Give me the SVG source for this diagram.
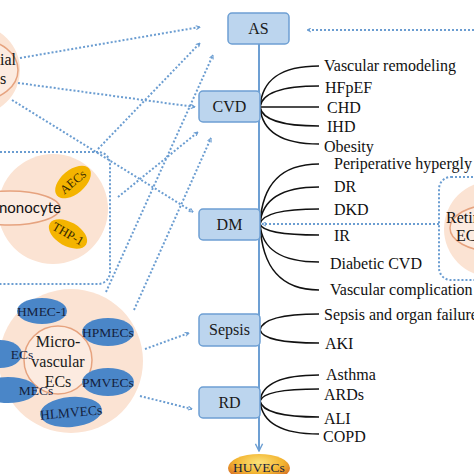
<svg xmlns="http://www.w3.org/2000/svg" width="474" height="474" viewBox="0 0 474 474">
<defs>
<style>
.box{fill:#bcd5ee;stroke:#6d9fd3;stroke-width:1.5}
.bt{font-family:"Liberation Serif",serif;font-size:16px;fill:#1a1a1a;text-anchor:middle}
.lt{font-family:"Liberation Serif",serif;font-size:16px;fill:#111}
.dot{fill:none;stroke:#6b9dd1;stroke-width:2;stroke-dasharray:2 2}
.dota{fill:none;stroke:#6b9dd1;stroke-width:2;stroke-dasharray:2 2;marker-end:url(#ah)}
.cur{fill:none;stroke:#111;stroke-width:1.6}
.peach{fill:#fbe3d3}
.inner{fill:#fcebe0;stroke:#e6a37f;stroke-width:1.5}
.blue{fill:#4a86c8}
.bl{font-family:"Liberation Serif",serif;font-size:13.5px;fill:#14213d;text-anchor:middle}
.gold{fill:#f4b400}
.gt{font-family:"Liberation Serif",serif;font-size:12.5px;fill:#3a2a00;text-anchor:middle}
</style>
<marker id="ah" viewBox="0 0 10 10" refX="9" refY="5" markerWidth="5" markerHeight="5" orient="auto" markerUnits="userSpaceOnUse">
<path d="M1,1 L9,5 L1,9" fill="none" stroke="#6b9dd1" stroke-width="2"/>
</marker>
<marker id="ahs" viewBox="0 0 10 10" refX="9" refY="5" markerWidth="9" markerHeight="9" orient="auto" markerUnits="userSpaceOnUse">
<path d="M1,1 L9,5 L1,9" fill="none" stroke="#6d9fd3" stroke-width="1.6"/>
</marker>
<radialGradient id="hg" cx="0.5" cy="0.3" r="0.7">
<stop offset="0" stop-color="#fbe27a"/>
<stop offset="0.55" stop-color="#f3b531"/>
<stop offset="1" stop-color="#cf5a22"/>
</radialGradient>
</defs>

<g id="source-top-left">
<circle class="peach" cx="-25" cy="70" r="45"/>
<ellipse class="inner" cx="-20" cy="70" rx="38" ry="30"/>
<text class="lt" x="0" y="65" font-size="17">ial</text>
<text class="lt" x="0" y="84" font-size="17">s</text>
</g>

<g id="monocyte-panel">
<rect class="dot" x="-20" y="152" width="130" height="132" rx="12"/>
<circle class="peach" cx="53" cy="209" r="55"/>
<ellipse class="inner" cx="10" cy="208" rx="50" ry="17"/>
<text x="-1" y="213" font-family="Lato,'Open Sans',sans-serif" font-size="15" fill="#111">nonocyte</text>
<ellipse class="gold" cx="73" cy="182" rx="21" ry="12" transform="rotate(-40 73 182)"/>
<text class="gt" x="73" y="186" transform="rotate(-40 73 182)">AECs</text>
<ellipse class="gold" cx="68" cy="234" rx="21" ry="12" transform="rotate(30 68 234)"/>
<text class="gt" x="68" y="238" transform="rotate(30 68 234)">THP-1</text>
</g>

<g id="microvascular">
<circle class="peach" cx="71" cy="361" r="72"/>
<circle class="inner" cx="58" cy="360" r="34"/>
<text class="bt" x="58" y="347">Micro-</text>
<text class="bt" x="58" y="367">vascular</text>
<text class="bt" x="58" y="387">ECs</text>
<ellipse class="blue" cx="42" cy="311" rx="25" ry="13"/>
<text class="bl" x="42" y="316">HMEC-1</text>
<ellipse class="blue" cx="108" cy="332" rx="26" ry="14"/>
<text class="bl" x="108" y="337">HPMECs</text>
<ellipse class="blue" cx="0" cy="354" rx="22" ry="14"/>
<text class="bl" x="22" y="359" text-anchor="end">ECs</text>
<ellipse class="blue" cx="8" cy="390" rx="29" ry="13"/>
<text class="bl" x="36" y="395" text-anchor="end">MECs</text>
<ellipse class="blue" cx="108" cy="382" rx="26" ry="14"/>
<text class="bl" x="108" y="387">PMVECs</text>
<ellipse class="blue" cx="71" cy="412" rx="31" ry="15" transform="rotate(-5 71 412)"/>
<text class="bl" x="71" y="417" transform="rotate(-5 71 412)">HLMVECs</text>
</g>

<g id="retinal-panel">
<rect class="dot" x="439" y="177" width="70" height="103" rx="12"/>
<circle class="peach" cx="492" cy="229" r="48"/>
<ellipse class="inner" cx="492" cy="228" rx="42" ry="23"/>
<text class="lt" x="446" y="223">Retin</text>
<text class="lt" x="456" y="241">EC</text>
</g>

<g id="connectors">
<line x1="259" y1="44" x2="259" y2="451" stroke="#6d9fd3" stroke-width="2" marker-end="url(#ahs)"/>
<line class="dota" x1="20" y1="58" x2="200" y2="27"/>
<line class="dota" x1="18" y1="83" x2="195" y2="107"/>
<line class="dota" x1="12" y1="100" x2="193" y2="212"/>
<line class="dota" x1="98" y1="149" x2="200" y2="43"/>
<line class="dota" x1="118" y1="197" x2="198" y2="132"/>
<line class="dota" x1="106" y1="292" x2="213" y2="55"/>
<line class="dota" x1="134" y1="310" x2="211" y2="138"/>
<line class="dota" x1="145" y1="349" x2="189" y2="333"/>
<line class="dota" x1="140" y1="396" x2="192" y2="409"/>
<line class="dota" x1="474" y1="30" x2="307" y2="30"/>
<line class="dota" x1="439" y1="224" x2="262" y2="224"/>
<path class="cur" d="M260,107 C262,80 280,66 319,66"/>
<path class="cur" d="M260,107 C262,93 280,86 319,86"/>
<path class="cur" d="M260,107 L319,107"/>
<path class="cur" d="M260,107 C262,119 280,126 319,126"/>
<path class="cur" d="M260,107 C262,131 280,144 319,144"/>
<path class="cur" d="M260,224 C262,185 280,164 319,164"/>
<path class="cur" d="M260,224 C262,200 280,187 319,187"/>
<path class="cur" d="M260,224 C262,214 280,209 319,209"/>
<path class="cur" d="M260,224 C262,231 280,235 319,235"/>
<path class="cur" d="M260,224 C262,249 280,262 319,262"/>
<path class="cur" d="M260,224 C262,267 280,290 319,290"/>
<path class="cur" d="M260,330 C262,320 280,314 319,314"/>
<path class="cur" d="M260,330 C262,338 280,343 319,343"/>
<path class="cur" d="M260,401 C262,384 280,375 319,375"/>
<path class="cur" d="M260,401 C262,393 280,389 319,389"/>
<path class="cur" d="M260,401 C262,411 280,417 319,417"/>
<path class="cur" d="M260,401 C262,422 280,434 319,434"/>
</g>

<g id="AS"><rect class="box" x="228" y="13" width="61" height="31" rx="4"/><text class="bt" x="258.5" y="34">AS</text></g>
<g id="CVD"><rect class="box" x="199" y="91" width="61" height="31" rx="4"/><text class="bt" x="229.5" y="112">CVD</text></g>
<g id="DM"><rect class="box" x="199" y="209" width="61" height="31" rx="4"/><text class="bt" x="229.5" y="230">DM</text></g>
<g id="Sepsis"><rect class="box" x="199" y="314" width="61" height="32" rx="4"/><text class="bt" x="229.5" y="335">Sepsis</text></g>
<g id="RD"><rect class="box" x="199" y="387" width="61" height="31" rx="4"/><text class="bt" x="229.5" y="408">RD</text></g>
<g id="HUVECs"><ellipse cx="259" cy="468" rx="31" ry="14" fill="url(#hg)"/><text class="bl" x="259" y="472" font-size="14" fill="#2a1a00">HUVECs</text></g>

<g id="labels">
<text class="lt" x="324" y="71">Vascular remodeling</text>
<text class="lt" x="325" y="93">HFpEF</text>
<text class="lt" x="327" y="113">CHD</text>
<text class="lt" x="327" y="132">IHD</text>
<text class="lt" x="324" y="152">Obesity</text>
<text class="lt" x="334" y="169">Periperative hypergly</text>
<text class="lt" x="334" y="192">DR</text>
<text class="lt" x="334" y="215">DKD</text>
<text class="lt" x="334" y="241">IR</text>
<text class="lt" x="330" y="269">Diabetic CVD</text>
<text class="lt" x="330" y="295">Vascular complication</text>
<text class="lt" x="324" y="320">Sepsis and organ failure</text>
<text class="lt" x="325" y="349">AKI</text>
<text class="lt" x="326" y="380">Asthma</text>
<text class="lt" x="324" y="400">ARDs</text>
<text class="lt" x="324" y="424">ALI</text>
<text class="lt" x="323" y="442">COPD</text>
</g>
</svg>
